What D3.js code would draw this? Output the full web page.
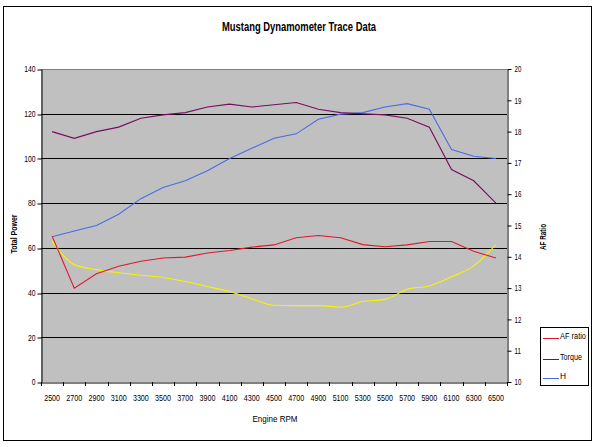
<!DOCTYPE html>
<html>
<head>
<meta charset="utf-8">
<script src="https://cdn.jsdelivr.net/npm/d3@7"></script>
<style>
  html, body { margin: 0; padding: 0; background: #fff; }
  svg { display: block; font-family: "Liberation Sans", Arial, sans-serif; }
</style>
</head>
<body>
<svg id="chart" width="596" height="447"></svg>
<script>
// ---- data ----
const rpm = [2500, 2700, 2900, 3100, 3300, 3500, 3700, 3900, 4100, 4300, 4500,
             4700, 4900, 5100, 5300, 5500, 5700, 5900, 6100, 6300, 6500];
const leftTicks = [0, 20, 40, 60, 80, 100, 120, 140];
const rightTicks = [10, 11, 12, 13, 14, 15, 16, 17, 18, 19, 20];
// AF ratio (right axis)
const afRatio = [14.66, 13.0, 13.46, 13.7, 13.86, 13.96, 13.99, 14.12, 14.2, 14.31, 14.38,
                 14.61, 14.68, 14.61, 14.39, 14.32, 14.38, 14.49, 14.49, 14.18, 13.96];
// Torque (left axis)
const torque = [112, 109, 112, 114, 118, 119.5, 120.5, 123, 124.3, 123, 124,
                125, 122, 120.5, 120, 119.5, 118, 114, 95, 90, 80];
// H (left axis)
const hp = [65, 67.5, 70, 75, 82, 87, 90, 94.5, 100, 104.5, 109,
            111, 117.5, 119.8, 120.5, 123, 124.5, 122, 104, 101, 100];
// second AF trace (yellow, right axis, not in legend)
const afRatio2 = [14.5, 13.75, 13.59, 13.49, 13.41, 13.34, 13.21, 13.05, 12.89, 12.66, 12.45,
                  12.44, 12.44, 12.39, 12.57, 12.64, 12.96, 13.07, 13.36, 13.71, 14.39];
const legendNames = ["AF ratio", "Torque", "H"];

// ---- layout ----
const svg = d3.select("#chart");
const L = 41, R = 507, T = 69, B = 382;
const colors = { af: "#e0182e", torque: "#7a0c60", h: "#4a6be6", af2: "#f5f500" };

function squeeze(sel, factor) {
  sel.each(function () {
    const w = this.getComputedTextLength();
    d3.select(this).attr("textLength", w * factor).attr("lengthAdjust", "spacingAndGlyphs");
  });
}
function fitTo(sel, width) {
  sel.attr("textLength", width).attr("lengthAdjust", "spacingAndGlyphs");
}

// outer frame
svg.append("rect").attr("x", 3.5).attr("y", 6.5).attr("width", 588).attr("height", 434)
  .attr("fill", "#fff").attr("stroke", "#000").attr("stroke-width", 1);

const x = d3.scaleBand().domain(rpm).range([L, R]);
const yL = d3.scaleLinear().domain([0, 140]).range([B, T]);
const yR = d3.scaleLinear().domain([10, 20]).range([B, T]);

// plot area
svg.append("rect").attr("x", L).attr("y", T).attr("width", R - L).attr("height", B - T)
  .attr("fill", "#c0c0c0");
svg.append("line").attr("x1", L).attr("x2", R).attr("y1", T + 0.5).attr("y2", T + 0.5)
  .attr("stroke", "#808080");

// gridlines
svg.append("g").selectAll("line").data(leftTicks.filter(d => d > 0 && d < 140)).join("line")
  .attr("x1", L).attr("x2", R)
  .attr("y1", d => Math.round(yL(d)) + 0.5).attr("y2", d => Math.round(yL(d)) + 0.5)
  .attr("stroke", "#000").attr("stroke-width", 1);

// left axis
const gL = svg.append("g").attr("transform", `translate(${L + 0.5},0)`)
  .call(d3.axisLeft(yL).tickValues(leftTicks).tickSize(4).tickPadding(2).tickSizeOuter(0));
// right axis
const gR = svg.append("g").attr("transform", `translate(${R + 0.5},0)`)
  .call(d3.axisRight(yR).tickValues(rightTicks).tickSize(4).tickPadding(3).tickSizeOuter(0));
// bottom axis (labels)
const gB = svg.append("g").attr("transform", `translate(0,${B + 0.5})`)
  .call(d3.axisBottom(x).tickSize(0).tickPadding(12).tickSizeOuter(0));
[gL, gR, gB].forEach(g => {
  g.select(".domain").attr("stroke", "#000");
  g.selectAll(".tick line").attr("stroke", "#000");
  g.selectAll("text").attr("font-size", "8.5px").attr("fill", "#000")
    .attr("font-family", "'Liberation Sans', Arial, sans-serif");
});
gL.selectAll(".tick line").attr("transform", d => `translate(0,${Math.round(yL(d)) + 0.5 - yL(d)})`);
squeeze(gL.selectAll("text"), 0.8);
squeeze(gR.selectAll("text"), 0.72);
squeeze(gB.selectAll("text"), 0.84);

// bottom tick marks at category boundaries
const bounds = rpm.map(d => x(d)).concat([x(rpm[rpm.length - 1]) + x.bandwidth()]);
svg.append("g").selectAll("line").data(bounds).join("line")
  .attr("x1", d => Math.round(d) + 0.5).attr("x2", d => Math.round(d) + 0.5)
  .attr("y1", B).attr("y2", B + 4).attr("stroke", "#000");

// series
const cx = d => x(d) + x.bandwidth() / 2;
function drawLine(values, yScale, color, curve) {
  const line = d3.line().x((d, i) => cx(rpm[i])).y(d => yScale(d)).curve(curve || d3.curveLinear);
  svg.append("path").datum(values).attr("d", line)
    .attr("fill", "none").attr("stroke", color).attr("stroke-width", 1.1);
}
drawLine(afRatio2, yR, colors.af2, d3.curveMonotoneX);
drawLine(hp, yL, colors.h);
drawLine(torque, yL, colors.torque);
drawLine(afRatio, yR, colors.af);

// title
const title = svg.append("text").attr("x", 299).attr("y", 31).attr("text-anchor", "middle")
  .attr("font-size", "12px").attr("font-weight", "bold").text("Mustang Dynamometer Trace Data");
fitTo(title, 154);

// axis titles
const tl = svg.append("text").attr("transform", "translate(17,234) rotate(-90)")
  .attr("text-anchor", "middle").attr("font-size", "9.5px").attr("font-weight", "bold")
  .text("Total Power");
fitTo(tl, 39);
const tr = svg.append("text").attr("transform", "translate(546,237) rotate(-90)")
  .attr("text-anchor", "middle").attr("font-size", "9.5px").attr("font-weight", "bold")
  .text("AF Ratio");
fitTo(tr, 26);
const tb = svg.append("text").attr("x", 275).attr("y", 422).attr("text-anchor", "middle")
  .attr("font-size", "9px").text("Engine RPM");
fitTo(tb, 45);

// legend
const lg = svg.append("g");
lg.append("rect").attr("x", 540.5).attr("y", 327.5).attr("width", 48).attr("height", 58)
  .attr("fill", "#fff").attr("stroke", "#000");
const legColors = [colors.af, colors.torque, colors.h];
const legY = [338.5, 359.5, 378.5];
const legW = [26, 22, 6];
legendNames.forEach((name, i) => {
  lg.append("line").attr("x1", 543).attr("x2", 559).attr("y1", legY[i]).attr("y2", legY[i])
    .attr("stroke", legColors[i]).attr("stroke-width", 1);
  const t = lg.append("text").attr("x", 560).attr("y", legY[i]).attr("font-size", "8.5px")
    .text(name);
  fitTo(t, legW[i]);
});
</script>
</body>
</html>
